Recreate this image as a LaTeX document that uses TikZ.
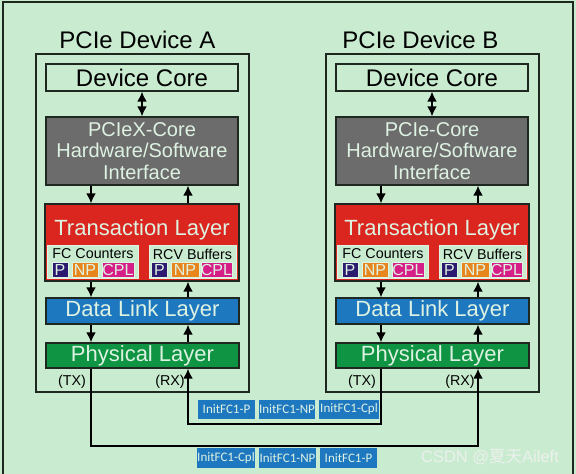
\documentclass[tikz,border=0pt]{standalone}
\usepackage{fontspec}
\setmainfont{Liberation Sans}
\newfontfamily\pktfont{Carlito}
\newfontfamily\cjkfont{Noto Sans CJK SC}
\usepackage{tikz}
\usetikzlibrary{calc,arrows.meta}

\definecolor{bgGreen}{RGB}{201,236,208}
\definecolor{edgeDark}{RGB}{30,40,32}
\definecolor{ifGray}{RGB}{108,108,108}
\definecolor{tlRed}{RGB}{218,38,30}
\definecolor{dlBlue}{RGB}{30,120,192}
\definecolor{phGreen}{RGB}{14,148,66}
\definecolor{pNavy}{RGB}{44,26,112}
\definecolor{npOrange}{RGB}{232,134,30}
\definecolor{cplPink}{RGB}{214,30,136}
\definecolor{lightText}{RGB}{222,242,226}
\definecolor{wmGray}{RGB}{236,240,237}

\begin{document}
\begin{tikzpicture}[x=1pt,y=-1pt,>={Latex[length=10pt,width=10pt]},
  layer/.style={draw=edgeDark,line width=1.4pt,inner sep=0pt,text=lightText},
  bigfont/.style={font=\fontsize{24}{24}\selectfont},
  midfont/.style={font=\fontsize{22}{22}\selectfont},
  tinyfont/.style={font=\fontsize{14.3}{14.3}\selectfont},
  smallbox/.style={draw=bgGreen!60!white,line width=0.6pt,inner sep=0pt,minimum height=15pt,text=lightText,font=\fontsize{16}{16}\selectfont},
  packet/.style={fill=dlBlue,inner sep=0pt,minimum height=19pt,text=lightText,font=\pktfont\fontsize{13}{13}\selectfont},
  wire/.style={line width=1.7pt,draw=black}]
\useasboundingbox (0,0) rectangle (576,474);
\fill[bgGreen] (0,0) rectangle (576,474);
\draw[edgeDark,line width=1.4pt] (3,480) -- (3,2) -- (573,2) -- (573,480);

\foreach \d/\xs/\core/\tx in {A/0/PCIeX-Core/137.5,B/290/PCIe-Core/130.5}{
  \begin{scope}[xshift=\xs pt]
  \node[bigfont] (title\d) at (\tx,40) {PCIe Device \d};
  \node[draw=edgeDark,line width=1.4pt,minimum width=213pt,minimum height=338pt,inner sep=0pt] (dev\d) at (142.5,223) {};
  \node[layer,text=black,bigfont,minimum width=192pt,minimum height=27pt] (core\d) at (142,77.5) {Device Core};
  \node[layer,fill=ifGray,minimum width=192pt,minimum height=68pt,align=center,font=\fontsize{20}{21.5}\selectfont] (if\d) at (142,151) {\core\\Hardware/Software\\Interface};
  \node[layer,fill=tlRed,minimum width=194pt,minimum height=77pt] (tl\d) at (142,242.5) {};
  \node[midfont,text=lightText] (tlname\d) at (142,229.5) {Transaction Layer};
  \node[fill=bgGreen,draw=bgGreen!60!white,inner sep=0pt,minimum width=91pt,minimum height=33pt] (fc\d) at (92.5,261.5) {};
  \node[tinyfont] (fcname\d) at (93,254) {FC Counters};
  \node[smallbox,fill=pNavy,minimum width=16pt] (fcp\d) at (60,269.5) {P};
  \node[smallbox,fill=npOrange,minimum width=26pt] (fcnp\d) at (85,269.5) {NP};
  \node[smallbox,fill=cplPink,minimum width=32pt] (fccpl\d) at (118,269.5) {CPL};
  \node[fill=bgGreen,draw=bgGreen!60!white,inner sep=0pt,minimum width=87pt,minimum height=33pt] (rcv\d) at (192.5,261.5) {};
  \node[tinyfont] (rcvname\d) at (192.5,254) {RCV Buffers};
  \node[smallbox,fill=pNavy,minimum width=16pt] (rcvp\d) at (159.5,269.5) {P};
  \node[smallbox,fill=npOrange,minimum width=28pt] (rcvnp\d) at (185,269.5) {NP};
  \node[smallbox,fill=cplPink,minimum width=31pt] (rcvcpl\d) at (216.5,269.5) {CPL};
  \node[layer,fill=dlBlue,midfont,minimum width=193pt,minimum height=26pt] (dl\d) at (142.5,311) {Data Link Layer};
  \node[layer,fill=phGreen,midfont,minimum width=193pt,minimum height=25pt] (ph\d) at (142.5,355.5) {Physical Layer};
  \node[tinyfont] (txlbl\d) at (72,382) {(TX)};
  \node[tinyfont] (rxlbl\d) at (170,382) {(RX)};
  \coordinate (tx\d) at (91,0);
  \coordinate (rx\d) at (188,0);
  \end{scope}
  \draw[wire,<->] (core\d) -- (if\d);
  \draw[wire,->] (if\d.south -| tx\d) -- (tl\d.north -| tx\d);
  \draw[wire,->] (tl\d.north -| rx\d) -- (if\d.south -| rx\d);
  \draw[wire,->] (tl\d.south -| tx\d) -- (dl\d.north -| tx\d);
  \draw[wire,->] (dl\d.north -| rx\d) -- (tl\d.south -| rx\d);
  \draw[wire,->] (dl\d.south -| tx\d) -- (ph\d.north -| tx\d);
  \draw[wire,->] (ph\d.north -| rx\d) -- (dl\d.south -| rx\d);
}

\draw[wire,->] (phA.south -| txA) -- ++(0,77) -| (phB.south -| rxB);
\draw[wire,->] (phB.south -| txB) -- ++(0,55) -| (phA.south -| rxA);

\node[packet,minimum width=57pt] (upP) at (226.5,409.5) {InitFC1-P};
\node[packet,minimum width=56pt] (upNP) at (287,409.5) {InitFC1-NP};
\node[packet,minimum width=60pt] (upCpl) at (349,409.5) {InitFC1-Cpl};
\node[packet,minimum width=58pt,minimum height=20pt] (loCpl) at (226,458) {InitFC1-Cpl};
\node[packet,minimum width=57pt,minimum height=20pt] (loNP) at (287.5,458) {InitFC1-NP};
\node[packet,minimum width=57pt,minimum height=20pt] (loP) at (348.5,458) {InitFC1-P};

\node[text=wmGray,font=\fontsize{16.5}{16.5}\selectfont] (mark) at (490,457) {CSDN @{\cjkfont 夏天}Aileft};
\end{tikzpicture}
\end{document}
